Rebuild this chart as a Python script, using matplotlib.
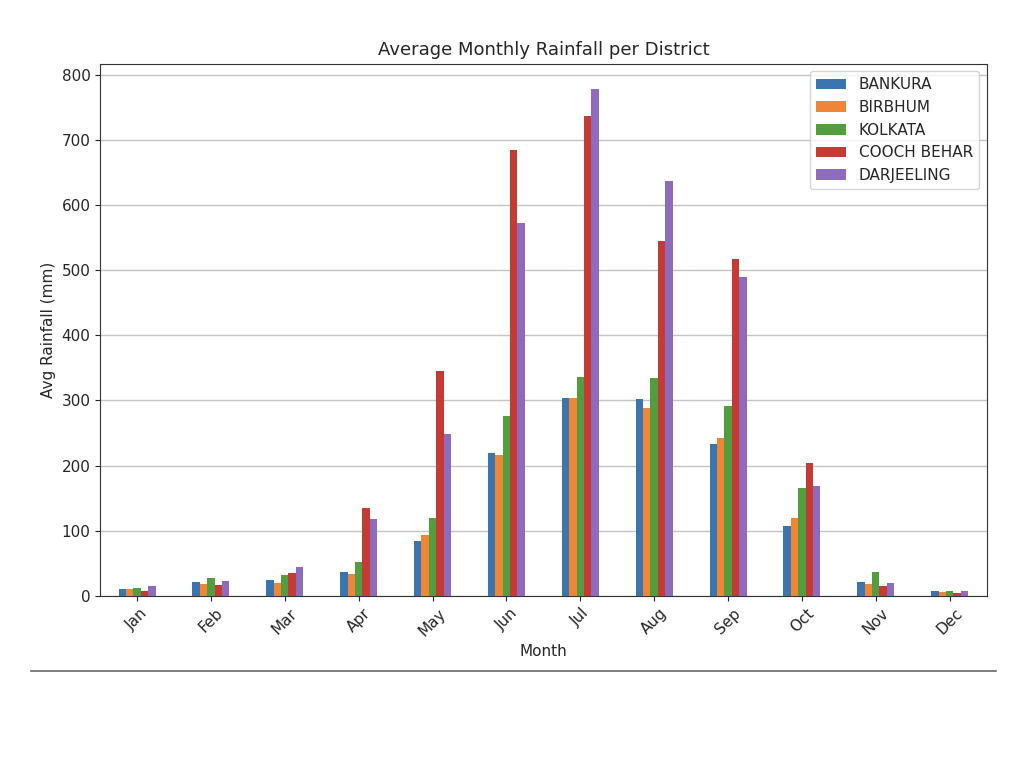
import numpy as np
import matplotlib
matplotlib.use('Agg')
import matplotlib.pyplot as plt
from matplotlib.lines import Line2D

# month labels and district rainfall (mm)
months = ['Jan', 'Feb', 'Mar', 'Apr', 'May', 'Jun', 'Jul', 'Aug', 'Sep', 'Oct', 'Nov', 'Dec']
districts = ['BANKURA', 'BIRBHUM', 'KOLKATA', 'COOCH BEHAR', 'DARJEELING']
bankura = [10, 21, 25, 37, 84, 219, 304, 302, 233, 107, 21, 8]
birbhum = [10, 18, 20, 33, 94, 217, 304, 289, 243, 119, 19, 6]
kolkata = [12, 27, 32, 52, 119, 276, 336, 334, 292, 165, 36, 8]
cooch_behar = [8, 16, 35, 135, 346, 684, 737, 545, 517, 204, 15, 5]
darjeeling = [15, 23, 45, 118, 249, 572, 778, 637, 490, 168, 20, 8]

series = [bankura, birbhum, kolkata, cooch_behar, darjeeling]
colors = ['#3a75b0', '#ef8535', '#529e3e', '#c53a32', '#8e6bbd']

txt = '#262626'
plt.rcParams['text.color'] = txt
plt.rcParams['axes.labelcolor'] = txt
plt.rcParams['xtick.color'] = txt
plt.rcParams['ytick.color'] = txt
plt.rcParams['axes.edgecolor'] = '#333333'

fig = plt.figure(figsize=(10.32, 7.64), dpi=100)
ax = fig.add_axes([0.097, 0.22, 0.859, 0.6966])

x = np.arange(len(months))
w = 0.1
for i, vals in enumerate(series):
    ax.bar(x + (i - 2) * w, vals, width=w, color=colors[i], label=districts[i], zorder=3)

ax.set_xlim(-0.5, 11.5)
ax.set_ylim(0, 817)
ax.set_xticks(x)
ax.set_xticklabels(months, rotation=45, fontsize=11)
ax.tick_params(axis='y', labelsize=11)
ax.yaxis.grid(True, color='#c4c4c4', linewidth=1, zorder=0)
ax.set_axisbelow(True)
ax.set_xlabel('Month', fontsize=11)
ax.set_ylabel('Avg Rainfall (mm)', fontsize=11)
ax.set_title('Average Monthly Rainfall per District', fontsize=13)
ax.legend(loc='upper right', fontsize=11)

# separator line under the chart
fig.add_artist(Line2D([31 / 1032, 996 / 1032], [1 - 671 / 764, 1 - 671 / 764],
                      color='#666666', linewidth=1.2))

fig.savefig('out.png', dpi=100)
